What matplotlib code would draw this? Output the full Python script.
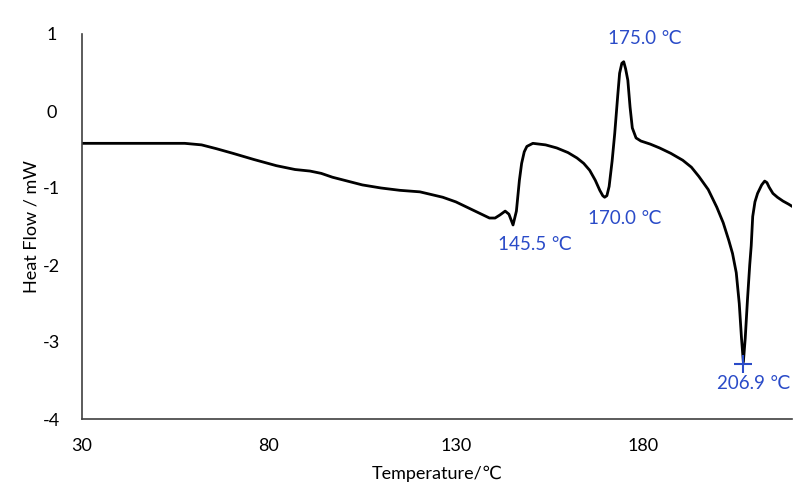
import matplotlib
matplotlib.use("Agg")
import matplotlib.pyplot as plt

plt.rcParams['font.family'] = ['Lato', 'DejaVu Sans']
plt.rcParams['axes.unicode_minus'] = False

# DSC curve
temp = [30, 32, 45, 57.5, 62, 66, 70.4, 76, 82, 87, 91, 94, 97, 101, 105, 110, 115,
        120.4, 126.5, 130, 133, 136, 139, 140.5, 141.8, 143.2, 144.2, 145.3, 146.2,
        147, 147.6, 148.3, 149, 150.6, 154, 157, 160, 162.4, 164.2, 165.8, 167.3,
        168.5, 169.3, 169.8, 170.4, 171, 171.8, 172.5, 173.3, 173.8, 174.4, 174.9,
        175.4, 176, 176.6, 177.2, 178.2, 179.5, 182, 184.5, 187.5, 190.7, 193, 195,
        197.5, 199.8, 201.5, 203, 204, 205, 205.8, 206.4, 206.9, 207.4, 208, 208.6,
        209, 209.4, 210, 210.7, 211.8, 212.6, 213.2, 213.8, 214.8, 216, 217.5, 219, 220]
heat = [-0.42, -0.42, -0.42, -0.42, -0.44, -0.49, -0.55, -0.63, -0.71, -0.76, -0.78,
        -0.81, -0.86, -0.91, -0.96, -1.00, -1.03, -1.05, -1.12, -1.18, -1.25, -1.32,
        -1.39, -1.39, -1.35, -1.30, -1.34, -1.48, -1.30, -0.90, -0.68, -0.53, -0.46,
        -0.42, -0.44, -0.48, -0.54, -0.61, -0.68, -0.77, -0.90, -1.03, -1.10, -1.12,
        -1.10, -0.98, -0.65, -0.29, 0.20, 0.49, 0.62, 0.64, 0.55, 0.40, 0.05, -0.22,
        -0.35, -0.39, -0.43, -0.48, -0.55, -0.64, -0.73, -0.85, -1.02, -1.25, -1.45,
        -1.68, -1.85, -2.1, -2.5, -2.95, -3.26, -2.95, -2.45, -2.0, -1.75, -1.37,
        -1.18, -1.07, -0.96, -0.91, -0.93, -0.99, -1.07, -1.12, -1.17, -1.21, -1.24]

peak_temps = [145.5, 170.0, 175.0, 206.9]
peak_labels = ['145.5 \u2103', '170.0 \u2103', '175.0 \u2103', '206.9 \u2103']
label_pos = [(151.1, -1.73), (175.2, -1.40), (180.5, 0.94), (209.7, -3.54)]

blue = '#2a4bc8'

fig, ax = plt.subplots(figsize=(8.11, 5.0), dpi=100)
fig.subplots_adjust(left=0.101, right=0.977, top=0.932, bottom=0.162)

ax.plot(temp, heat, color='black', lw=2.0)
ax.plot([206.9], [-3.29], marker='+', color=blue, ms=13, mew=1.5)

for (x, y), lab in zip(label_pos, peak_labels):
    ax.text(x, y, lab, color=blue, fontsize=13.5, ha='center', va='center')

ax.set_xlim(30, 220)
ax.set_ylim(-4, 1)
ax.set_xticks([30, 80, 130, 180])
ax.set_yticks([1, 0, -1, -2, -3, -4])
ax.tick_params(length=0, labelsize=13, pad=14)
ax.tick_params(axis='y', pad=22)
for lab in ax.get_yticklabels():
    lab.set_horizontalalignment('center')
ax.spines['top'].set_visible(False)
ax.spines['right'].set_visible(False)
ax.spines['left'].set_color('#404040')
ax.spines['bottom'].set_color('#404040')
ax.spines['left'].set_linewidth(1.2)
ax.spines['bottom'].set_linewidth(1.2)

ax.set_xlabel('Temperature/\u2103', fontsize=13, labelpad=8)
ax.set_ylabel('Heat Flow / mW', fontsize=13, labelpad=2)

fig.savefig('out.png', dpi=100)
